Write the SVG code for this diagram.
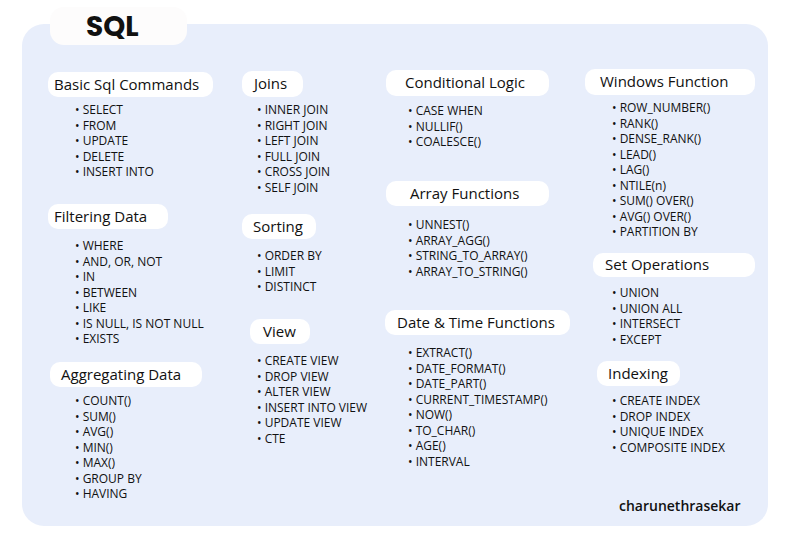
<svg xmlns="http://www.w3.org/2000/svg" width="800" height="555" viewBox="0 0 800 555">
<style>
.h{font-family:"Open Sans","Liberation Sans",sans-serif;font-size:15px;font-weight:500;fill:#111}
.i{font-family:"Open Sans","Liberation Sans",sans-serif;font-size:12px;fill:#111}
.p{fill:#fff}
</style>
<rect width="800" height="555" fill="#fff"/>
<rect x="22" y="24" width="746" height="502" rx="22" fill="#e8eefb"/>
<g id="title"><rect x="50" y="7" width="137" height="38" rx="14" fill="#fdfcfc"/>
<text x="86" y="36" font-family="Poppins,'Open Sans','Liberation Sans',sans-serif" font-size="28" font-weight="700" fill="#111">SQL</text></g>
<g id="basic"><rect class="p" x="48" y="72" width="165" height="25" rx="10"/><text class="h" x="54" y="90">Basic Sql Commands</text>
<text class="i"><tspan x="75" y="114">•  SELECT</tspan><tspan x="75" dy="15.5">•  FROM</tspan><tspan x="75" dy="15.5">•  UPDATE</tspan><tspan x="75" dy="15.5">•  DELETE</tspan><tspan x="75" dy="15.5">•  INSERT INTO</tspan></text></g>
<g id="filtering"><rect class="p" x="48" y="204" width="120" height="25" rx="10"/><text class="h" x="54" y="222">Filtering Data</text>
<text class="i"><tspan x="75" y="250">•  WHERE</tspan><tspan x="75" dy="15.5">•  AND, OR, NOT</tspan><tspan x="75" dy="15.5">•  IN</tspan><tspan x="75" dy="15.5">•  BETWEEN</tspan><tspan x="75" dy="15.5">•  LIKE</tspan><tspan x="75" dy="15.5">•  IS NULL, IS NOT NULL</tspan><tspan x="75" dy="15.5">•  EXISTS</tspan></text></g>
<g id="aggregating"><rect class="p" x="50" y="362" width="152" height="25" rx="10"/><text class="h" x="61" y="380">Aggregating Data</text>
<text class="i"><tspan x="75" y="405">•  COUNT()</tspan><tspan x="75" dy="15.5">•  SUM()</tspan><tspan x="75" dy="15.5">•  AVG()</tspan><tspan x="75" dy="15.5">•  MIN()</tspan><tspan x="75" dy="15.5">•  MAX()</tspan><tspan x="75" dy="15.5">•  GROUP BY</tspan><tspan x="75" dy="15.5">•  HAVING</tspan></text></g>
<g id="joins"><rect class="p" x="242" y="71" width="61" height="26" rx="10"/><text class="h" x="254" y="89">Joins</text>
<text class="i"><tspan x="257" y="114">•  INNER JOIN</tspan><tspan x="257" dy="15.5">•  RIGHT JOIN</tspan><tspan x="257" dy="15.5">•  LEFT JOIN</tspan><tspan x="257" dy="15.5">•  FULL JOIN</tspan><tspan x="257" dy="15.5">•  CROSS JOIN</tspan><tspan x="257" dy="15.5">•  SELF JOIN</tspan></text></g>
<g id="sorting"><rect class="p" x="242" y="214" width="74" height="25" rx="10"/><text class="h" x="253" y="232">Sorting</text>
<text class="i"><tspan x="257" y="260">•  ORDER BY</tspan><tspan x="257" dy="15.5">•  LIMIT</tspan><tspan x="257" dy="15.5">•  DISTINCT</tspan></text></g>
<g id="view"><rect class="p" x="250" y="319" width="60" height="25" rx="10"/><text class="h" x="263" y="337">View</text>
<text class="i"><tspan x="257" y="365">•  CREATE VIEW</tspan><tspan x="257" dy="15.5">•  DROP VIEW</tspan><tspan x="257" dy="15.5">•  ALTER VIEW</tspan><tspan x="257" dy="15.5">•  INSERT INTO VIEW</tspan><tspan x="257" dy="15.5">•  UPDATE VIEW</tspan><tspan x="257" dy="15.5">•  CTE</tspan></text></g>
<g id="conditional"><rect class="p" x="386" y="70" width="163" height="26" rx="10"/><text class="h" x="405" y="88">Conditional Logic</text>
<text class="i"><tspan x="408" y="115">•  CASE WHEN</tspan><tspan x="408" dy="15.5">•  NULLIF()</tspan><tspan x="408" dy="15.5">•  COALESCE()</tspan></text></g>
<g id="array"><rect class="p" x="386" y="181" width="163" height="25" rx="10"/><text class="h" x="410" y="199">Array Functions</text>
<text class="i"><tspan x="408" y="229">•  UNNEST()</tspan><tspan x="408" dy="15.5">•  ARRAY_AGG()</tspan><tspan x="408" dy="15.5">•  STRING_TO_ARRAY()</tspan><tspan x="408" dy="15.5">•  ARRAY_TO_STRING()</tspan></text></g>
<g id="datetime"><rect class="p" x="385" y="310" width="185" height="25" rx="10"/><text class="h" x="397" y="328">Date &amp; Time Functions</text>
<text class="i"><tspan x="408" y="357">•  EXTRACT()</tspan><tspan x="408" dy="15.5">•  DATE_FORMAT()</tspan><tspan x="408" dy="15.5">•  DATE_PART()</tspan><tspan x="408" dy="15.5">•  CURRENT_TIMESTAMP()</tspan><tspan x="408" dy="15.5">•  NOW()</tspan><tspan x="408" dy="15.5">•  TO_CHAR()</tspan><tspan x="408" dy="15.5">•  AGE()</tspan><tspan x="408" dy="15.5">•  INTERVAL</tspan></text></g>
<g id="windows"><rect class="p" x="585" y="69" width="170" height="26" rx="10"/><text class="h" x="600" y="87">Windows Function</text>
<text class="i"><tspan x="612" y="112">•  ROW_NUMBER()</tspan><tspan x="612" dy="15.5">•  RANK()</tspan><tspan x="612" dy="15.5">•  DENSE_RANK()</tspan><tspan x="612" dy="15.5">•  LEAD()</tspan><tspan x="612" dy="15.5">•  LAG()</tspan><tspan x="612" dy="15.5">•  NTILE(n)</tspan><tspan x="612" dy="15.5">•  SUM() OVER()</tspan><tspan x="612" dy="15.5">•  AVG() OVER()</tspan><tspan x="612" dy="15.5">•  PARTITION BY</tspan></text></g>
<g id="set"><rect class="p" x="593" y="253" width="162" height="24" rx="10"/><text class="h" x="605" y="270">Set Operations</text>
<text class="i"><tspan x="612" y="297">•  UNION</tspan><tspan x="612" dy="15.5">•  UNION ALL</tspan><tspan x="612" dy="15.5">•  INTERSECT</tspan><tspan x="612" dy="15.5">•  EXCEPT</tspan></text></g>
<g id="indexing"><rect class="p" x="597" y="361" width="83" height="25" rx="10"/><text class="h" x="608" y="379">Indexing</text>
<text class="i"><tspan x="612" y="405">•  CREATE INDEX</tspan><tspan x="612" dy="15.5">•  DROP INDEX</tspan><tspan x="612" dy="15.5">•  UNIQUE INDEX</tspan><tspan x="612" dy="15.5">•  COMPOSITE INDEX</tspan></text></g>
<text x="619" y="511" font-family="'Open Sans','Liberation Sans',sans-serif" font-size="14" font-weight="600" fill="#111">charunethrasekar</text>
</svg>
